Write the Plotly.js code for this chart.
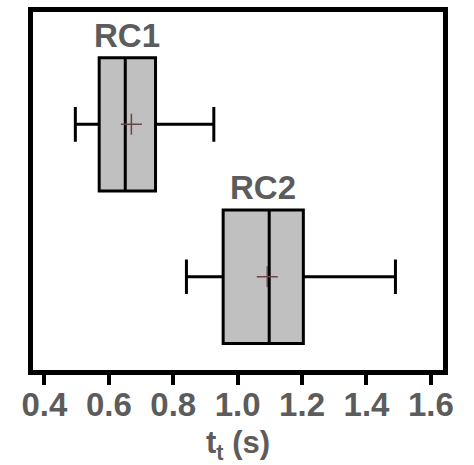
<!DOCTYPE html>
<html>
<head>
<meta charset="utf-8">
<script src="https://cdn.plot.ly/plotly-3.0.1.min.js"></script>
<style>
  html, body { margin: 0; padding: 0; background: #fff; }
  #chart { width: 474px; height: 465px; }
</style>
</head>
<body>
<div id="chart"></div>
<script>
// groups, top to bottom
var groups = ['RC1', 'RC2'];
// box stats (seconds)
var lowWhisker = [0.496, 0.841];
var q1 = [0.570, 0.955];
var medians = [0.651, 1.098];
var q3 = [0.745, 1.204];
var highWhisker = [0.926, 1.490];
var means = [0.670, 1.092];

var tickVals = [0.4, 0.6, 0.8, 1.0, 1.2, 1.4, 1.6];
var tickText = ['0.4', '0.6', '0.8', '1.0', '1.2', '1.4', '1.6'];

var font = 'Liberation Sans, Arial, sans-serif';
var grey = '#5c5c5c';

var boxes = {
  type: 'box',
  orientation: 'h',
  y: groups,
  q1: q1,
  median: medians,
  q3: q3,
  lowerfence: lowWhisker,
  upperfence: highWhisker,
  width: 0.875,
  whiskerwidth: 0.26,
  fillcolor: '#c0c0c0',
  line: {color: '#000', width: 3},
  boxpoints: false,
  hoverinfo: 'skip'
};

var meanMarks = {
  type: 'scatter',
  mode: 'markers',
  x: means,
  y: groups,
  marker: {symbol: 'cross-thin', size: 15, line: {color: '#6b4545', width: 1.5}},
  hoverinfo: 'skip'
};

// group names sit above each box
var labels = [];
for (var i = 0; i < groups.length; i++) {
  labels.push({
    x: (q1[i] + q3[i]) / 2,
    y: i,
    xref: 'x', yref: 'y',
    text: groups[i],
    showarrow: false,
    yanchor: 'middle',
    yshift: 89,
    font: {family: font, size: 33, color: grey, weight: 'bold'}
  });
}

var layout = {
  width: 474,
  height: 465,
  margin: {l: 33, r: 31, t: 12, b: 95},
  paper_bgcolor: '#fff',
  plot_bgcolor: '#fff',
  showlegend: false,
  xaxis: {
    range: [0.3645, 1.6377],
    tickvals: tickVals,
    ticktext: tickText,
    ticks: 'outside',
    ticklen: 10,
    tickwidth: 4,
    tickcolor: '#000',
    ticklabelstandoff: -9,
    showline: true,
    mirror: true,
    linewidth: 5,
    linecolor: '#000',
    showgrid: false,
    zeroline: false,
    tickfont: {family: font, size: 33, color: grey, weight: 'bold'},
    title: {
      text: 't<sub>t</sub> (s)',
      font: {family: font, size: 31, color: grey, weight: 'bold'},
      standoff: 12
    }
  },
  yaxis: {
    type: 'category',
    categoryarray: groups,
    range: [1.612, -0.737],
    showline: true,
    mirror: true,
    linewidth: 5,
    linecolor: '#000',
    showgrid: false,
    zeroline: false,
    showticklabels: false,
    ticks: ''
  },
  annotations: labels
};

Plotly.newPlot('chart', [boxes, meanMarks], layout, {displayModeBar: false, staticPlot: true});
</script>
</body>
</html>
